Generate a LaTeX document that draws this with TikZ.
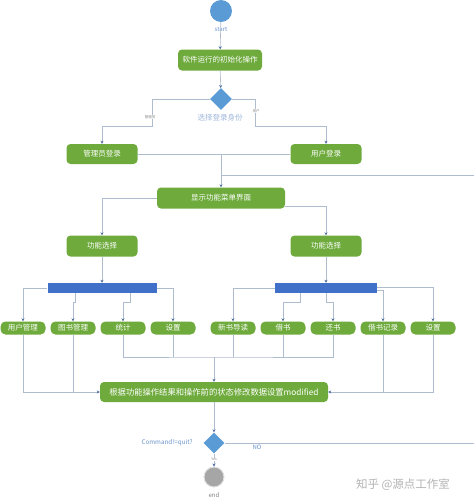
\documentclass[tikz,border=0pt]{standalone}
\usepackage{fontspec}
\setmainfont{Noto Sans CJK SC}
\usetikzlibrary{shapes.geometric,arrows.meta}

\definecolor{actgreen}{HTML}{6EAA3C}
\definecolor{barblue}{HTML}{4170C8}
\definecolor{choiceblue}{HTML}{5B9BD5}
\definecolor{linegray}{HTML}{AEBCCE}
\definecolor{tipblue}{HTML}{4F6F9E}
\definecolor{lblblue}{HTML}{6A93C8}
\definecolor{paleblue}{HTML}{9DB5DB}

\begin{document}
\begin{tikzpicture}[x=1pt,y=-1pt,
        act/.style={draw=none,fill=actgreen,rounded corners=4pt,text=white,
            inner sep=0pt,font=\fontsize{7.5}{8}\selectfont},
        smallact/.style={act,minimum width=45pt,minimum height=13pt,rounded corners=5pt},
        forkbar/.style={fill=barblue,inner sep=0pt,minimum height=10pt},
        choice/.style={diamond,aspect=1,fill=choiceblue,inner sep=0pt,minimum size=22pt},
        flow/.style={draw=linegray,line width=0.6pt,-{Stealth[length=3pt,width=3pt,color=tipblue]}},
        plain/.style={draw=linegray,line width=0.6pt},
        tinylbl/.style={fill=white,inner sep=0.5pt,text=gray,font=\fontsize{3.5}{4}\selectfont}]
            \useasboundingbox (0, 0) rectangle (474, 504);
            \clip (0, 0) rectangle (474, 504);

            \node[circle,fill=choiceblue,minimum size=22pt,inner sep=0pt] (start) at (221, 11) {};
            \node[text=lblblue,font=\fontsize{6}{7}\selectfont] (startlbl) at (221, 29) {start};

            \node[act,minimum width=84pt,minimum height=21pt] (init) at (220, 60) {软件运行的初始化操作};
            \node[choice] (role) at (221, 99) {};
            \node[text=paleblue,font=\fontsize{7.5}{8}\selectfont] (rolelbl) at (220, 118) {选择登录身份};

            \node[act,minimum width=71pt,minimum height=20pt] (admin) at (102, 154) {管理员登录};
            \node[act,minimum width=71pt,minimum height=20pt] (user) at (326, 154) {用户登录};

            \node[act,minimum width=128pt,minimum height=21pt] (menu) at (221, 198) {显示功能菜单界面};
            \node[act,minimum width=71pt,minimum height=21pt] (selA) at (102, 246) {功能选择};
            \node[act,minimum width=71pt,minimum height=21pt] (selB) at (326, 246) {功能选择};

            \node[forkbar,minimum width=109pt] (barA) at (102, 288) {};
            \node[forkbar,minimum width=102pt] (barB) at (326, 288) {};

            \node[smallact] (um) at (23, 328) {用户管理};
            \node[smallact] (bm) at (73, 328) {图书管理};
            \node[smallact] (st) at (123, 328) {统计};
            \node[smallact] (sa) at (173, 328) {设置};
            \node[smallact] (nb) at (233, 328) {新书导读};
            \node[smallact] (bo) at (283, 328) {借书};
            \node[smallact] (re) at (333, 328) {还书};
            \node[smallact] (rr) at (383, 328) {借书记录};
            \node[smallact] (sb) at (433, 328) {设置};

            \node[act,minimum width=228pt,minimum height=20pt,font=\fontsize{8.3}{9}\selectfont]
                (final) at (214, 392) {根据功能操作结果和操作前的状态修改数据设置modified};

            \node[choice,minimum size=21pt] (quit) at (214, 443) {};
            \node[text=lblblue,font=\fontsize{6.3}{7}\selectfont] (quitlbl) at (167, 443) {Command!=quit?};
            \node[text=lblblue,font=\fontsize{6}{7}\selectfont] (nolbl) at (257, 447) {NO};

            \node[circle,draw=black!12,line width=1pt,fill=black!35,minimum size=20pt,inner sep=0pt] (endc) at (214, 477) {};
            \node[text=gray,font=\fontsize{6}{7}\selectfont] (endlbl) at (214, 495) {end};

            \node[text=black!30,font=\fontsize{11.5}{12}\selectfont] (mark) at (403, 485) {知乎 @源点工作室};

            \coordinate (ra) at (152, 126);
            \coordinate (rb) at (255, 126);
            \coordinate (loop) at (480, 175);
            \coordinate (mid) at (214, 357);

            \draw[flow] (start) -- (init);
            \draw[flow] (init) -- (role);
            \draw[flow] (role.west) -| (ra) -| (admin.north);
            \draw[flow] (role.east) -| (rb) -| (user.north);
            \node[tinylbl] (adminlbl) at (150, 117) {管理员};
            \node[tinylbl] (userlbl) at (256, 111) {用户};

            \draw[flow] (admin.east) -| (menu.north);
            \draw[plain] (user.west) -- (user.west -| menu.north);
            \draw[plain] (quit.east) -| (loop) -- (loop -| menu.north);

            \draw[flow] (menu.west) -| (selA.north);
            \draw[flow] ([yshift=-8pt]menu.east) -| (selB.north);
            \draw[flow] (selA) -- (barA);
            \draw[flow] (selB) -- (barB);

            \draw[flow] (barA.west) -| (um.north);
            \draw[flow] ([xshift=2pt]bm.north |- barA.south) -- ++(0, 9) -| (bm.north);
            \draw[flow] ([xshift=7pt]st.north |- barA.south) -- ++(0, 9) -| (st.north);
            \draw[flow] (barA.east) -| (sa.north);

            \draw[flow] (barB.west) -| (nb.north);
            \draw[flow] ([xshift=17pt]bo.north |- barB.south) -- ++(0, 9) -| (bo.north);
            \draw[flow] ([xshift=-7pt]re.north |- barB.south) -- ++(0, 9) -| (re.north);
            \draw[flow] ([yshift=-2pt]barB.east) -| (rr.north);
            \draw[flow] ([yshift=1pt]barB.east) -| (sb.north);

            \draw[plain] (st.south) |- (mid) -| (re.south);
            \foreach \n in {sa,nb,bo}
                \draw[plain] (\n.south) -- (\n.south |- mid);
            \draw[flow] (mid) -- (final.north);

            \draw[flow] (um.south) |- (final.west);
            \draw[plain] (bm.south) -- (bm.south |- final.west);
            \draw[flow] (sb.south) |- (final.east);
            \draw[plain] (rr.south) -- (rr.south |- final.east);

            \draw[flow] (final) -- (quit);
            \draw[flow] (quit) -- node[tinylbl,pos=0.45] (yeslbl) {Yes} (endc);
        \end{tikzpicture}
\end{document}
